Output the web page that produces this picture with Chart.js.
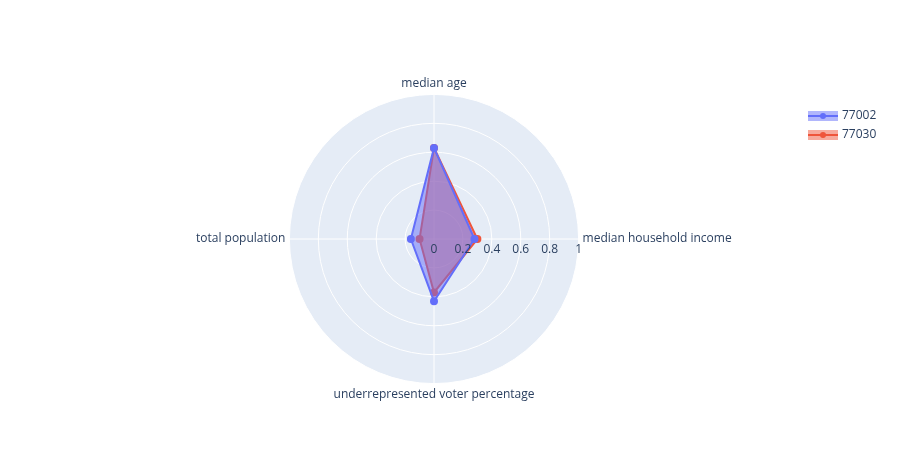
<!DOCTYPE html>
<html>
<head>
<meta charset="utf-8">
<script src="https://cdn.jsdelivr.net/npm/chart.js@4.4.0/dist/chart.umd.min.js"></script>
<style>
  html, body { margin: 0; padding: 0; background: #fff; }
  #wrap { position: relative; width: 899px; height: 450px; }
</style>
</head>
<body>
<div id="wrap"><canvas id="radarChart"></canvas></div>
<script>
// categories clockwise starting at the right (3 o'clock)
const categories = ['median household income', 'underrepresented voter percentage', 'total population', 'median age'];
const zip77002 = [0.28, 0.43, 0.16, 0.63];
const zip77030 = [0.30, 0.37, 0.10, 0.63];
const seriesNames = ['77002', '77030'];
const tickValues = [0, 0.2, 0.4, 0.6, 0.8, 1];

const blue = '#636efa';
const red = '#ef553b';

// polar background + horizontal tick labels + legend
const plotlyLook = {
    id: 'plotlyLook',
    beforeDraw(chart) {
        const s = chart.scales.r;
        const ctx = chart.ctx;
        ctx.save();
        ctx.fillStyle = '#e5ecf6';
        ctx.beginPath();
        ctx.arc(s.xCenter, s.yCenter, s.drawingArea, 0, Math.PI * 2);
        ctx.fill();
        ctx.restore();
    },
    afterDraw(chart) {
        const s = chart.scales.r;
        const ctx = chart.ctx;
        ctx.save();
        ctx.font = '12px "Open Sans", sans-serif';
        ctx.fillStyle = '#2a3f5f';
        ctx.textAlign = 'center';
        ctx.textBaseline = 'middle';
        tickValues.forEach(v => {
            const d = s.getDistanceFromCenterForValue(v);
            ctx.fillText(String(v), s.xCenter + d, s.yCenter + 11);
        });

        // legend
        const colors = [blue, red];
        seriesNames.forEach((name, i) => {
            const y = 116 + i * 19;
            ctx.fillStyle = colors[i] + '80';
            ctx.fillRect(808, y - 5, 30, 10);
            ctx.strokeStyle = colors[i];
            ctx.lineWidth = 2;
            ctx.beginPath();
            ctx.moveTo(808, y);
            ctx.lineTo(838, y);
            ctx.stroke();
            ctx.fillStyle = colors[i];
            ctx.beginPath();
            ctx.arc(823, y, 3, 0, Math.PI * 2);
            ctx.fill();
            ctx.fillStyle = '#2a3f5f';
            ctx.textAlign = 'left';
            ctx.fillText(name, 842, y);
        });
        ctx.restore();
    }
};

new Chart(document.getElementById('radarChart'), {
    type: 'radar',
    data: {
        labels: categories,
        datasets: [
            {
                label: seriesNames[0],
                data: zip77002,
                borderColor: blue,
                backgroundColor: 'rgba(99,110,250,0.5)',
                pointBackgroundColor: blue,
                pointBorderColor: blue,
                pointRadius: 3,
                borderWidth: 2,
                fill: true
            },
            {
                label: seriesNames[1],
                data: zip77030,
                borderColor: red,
                backgroundColor: 'rgba(239,85,59,0.5)',
                pointBackgroundColor: red,
                pointBorderColor: red,
                pointRadius: 3,
                borderWidth: 2,
                fill: true
            }
        ]
    },
    options: {
        responsive: true,
        maintainAspectRatio: false,
        animation: false,
        layout: { padding: { top: 76, bottom: 48, left: 0, right: 30 } },
        plugins: { legend: { display: false }, tooltip: { enabled: false } },
        elements: { line: { tension: 0 } },
        scales: {
            r: {
                min: 0,
                max: 1,
                startAngle: 90,
                ticks: { display: false, stepSize: 0.2 },
                grid: { circular: true, color: '#ffffff', lineWidth: 1 },
                angleLines: { color: '#ffffff', lineWidth: 1 },
                pointLabels: {
                    color: '#2a3f5f',
                    padding: 4,
                    font: { family: '"Open Sans", sans-serif', size: 12 }
                }
            }
        }
    },
    plugins: [plotlyLook]
});
</script>
</body>
</html>
